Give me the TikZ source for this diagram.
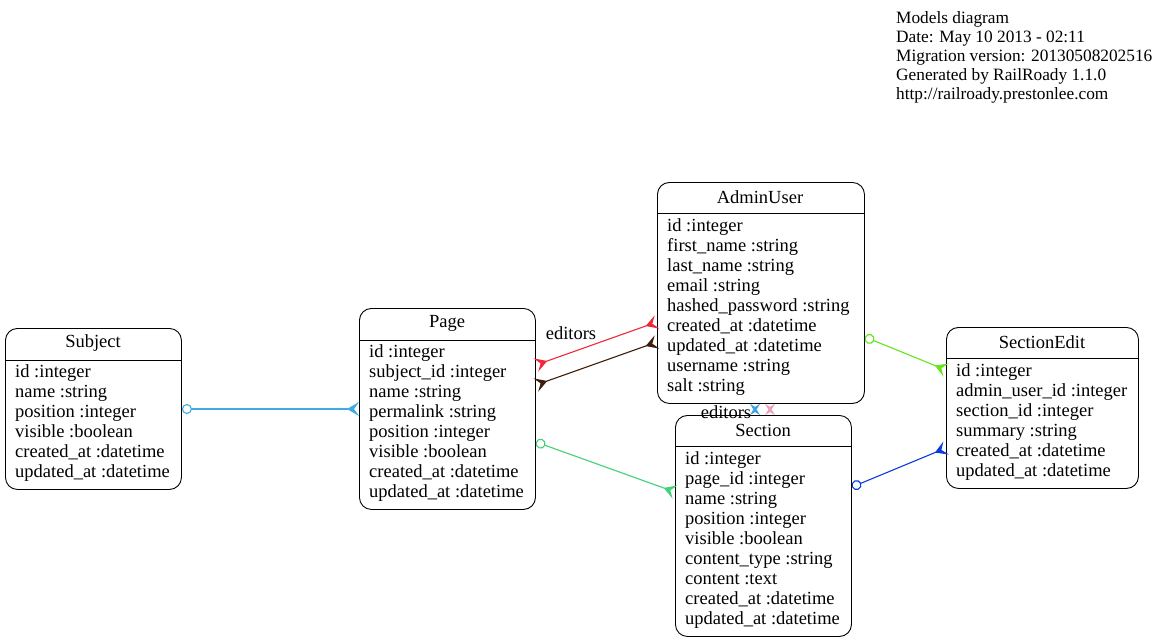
\documentclass[tikz,border=0pt]{standalone}
\usepackage{fontspec}
\setmainfont{Liberation Serif}
\usetikzlibrary{arrows.meta,calc}
\begin{document}
\begin{tikzpicture}[x=1pt,y=-1pt,
  box/.style={draw,rounded corners=12pt,anchor=north west,inner sep=0,line width=0.9pt},
  ttl/.style={anchor=center,font=\fontsize{18.5}{20}\selectfont,inner sep=0},
  body/.style={anchor=north west,align=left,font=\fontsize{18.5}{20}\selectfont,inner sep=0},
  cr/.tip={Stealth[reversed,length=12pt,width=14pt,inset=5pt]},
  cs/.tip={Stealth[reversed,length=8pt,width=10pt,inset=3pt]},
  oc/.tip={Circle[open,length=10pt,width=10pt,fill=white]},
  rel/.style={line width=1.1pt}]
\useasboundingbox[fill=white] (0,0) rectangle (1169,643);
\node[anchor=north west,align=left,inner sep=0,font=\fontsize{17.3}{19}\selectfont] (info) at (896,11)
 {Models diagram\\Date: May 10 2013 - 02:11\\Migration version: 20130508202516\\Generated by RailRoady 1.1.0\\http://railroady.prestonlee.com};
% Subject
\node[box,minimum width=176pt,minimum height=161pt] (subject) at (5,328) {};
\draw ($(subject.north west)+(0,32)$) -- ($(subject.north east)+(0,32)$);
\node[ttl] (subjectT) at (93,343) {Subject};
\node[body] (subjectB) at (15,364) {id :integer\\name :string\\position :integer\\visible :boolean\\created\_at :datetime\\updated\_at :datetime};
% Page
\node[box,minimum width=176pt,minimum height=201pt] (page) at (359,308) {};
\draw ($(page.north west)+(0,32)$) -- ($(page.north east)+(0,32)$);
\node[ttl] (pageT) at (447,323) {Page};
\node[body] (pageB) at (369,344) {id :integer\\subject\_id :integer\\name :string\\permalink :string\\position :integer\\visible :boolean\\created\_at :datetime\\updated\_at :datetime};
% AdminUser
\node[box,minimum width=207pt,minimum height=221pt] (admin) at (657,182) {};
\draw ($(admin.north west)+(0,31)$) -- ($(admin.north east)+(0,31)$);
\node[ttl] (adminT) at (760,197) {AdminUser};
\node[body] (adminB) at (667,218) {id :integer\\first\_name :string\\last\_name :string\\email :string\\hashed\_password :string\\created\_at :datetime\\updated\_at :datetime\\username :string\\salt :string};
% Section
\node[box,minimum width=176pt,minimum height=221pt] (section) at (675,415) {};
\draw ($(section.north west)+(0,31)$) -- ($(section.north east)+(0,31)$);
\node[ttl] (sectionT) at (763,430) {Section};
\node[body] (sectionB) at (685,451) {id :integer\\page\_id :integer\\name :string\\position :integer\\visible :boolean\\content\_type :string\\content :text\\created\_at :datetime\\updated\_at :datetime};
% SectionEdit
\node[box,minimum width=192pt,minimum height=161pt] (sedit) at (946,327) {};
\draw ($(sedit.north west)+(0,31)$) -- ($(sedit.north east)+(0,31)$);
\node[ttl] (seditT) at (1042,342) {SectionEdit};
\node[body] (seditB) at (956,363) {id :integer\\admin\_user\_id :integer\\section\_id :integer\\summary :string\\created\_at :datetime\\updated\_at :datetime};
% connectors
\draw[rel,oc-cr,color={rgb,255:red,64;green,170;blue,230}] ([yshift=-81pt]subject.north east) -- ([yshift=-101pt]page.north west);
\draw[rel,cr-cr,color={rgb,255:red,240;green,40;blue,60}] ([yshift=-57pt]page.north east) -- ([yshift=-140pt]admin.north west);
\draw[rel,cr-cr,color={rgb,255:red,60;green,30;blue,10}] ([yshift=-77pt]page.north east) -- ([yshift=-160pt]admin.north west);
\node[font=\fontsize{18.5}{20}\selectfont,inner sep=0] (ed1) at (571,333) {editors};
\draw[rel,oc-cr,color={rgb,255:red,64;green,210;blue,120}] ([yshift=-134pt]page.north east) -- ([yshift=-77pt]section.north west);
\draw[rel,oc-cr,color={rgb,255:red,100;green,230;blue,30}] ([yshift=-155pt]admin.north east) -- ([yshift=-43pt]sedit.north west);
\draw[rel,oc-cr,color={rgb,255:red,10;green,60;blue,220}] ([yshift=-72pt]section.north east) -- ([yshift=-121pt]sedit.north west);
\draw[rel,cs-cs,color={rgb,255:red,60;green,160;blue,230}] ([xshift=98pt]admin.south west) -- ([xshift=80pt]section.north west);
\draw[rel,cs-cs,color={rgb,255:red,235;green,160;blue,190}] ([xshift=113pt]admin.south west) -- ([xshift=95pt]section.north west);
\node[font=\fontsize{18.5}{20}\selectfont,inner sep=0] (ed2) at (726,412) {editors};
\end{tikzpicture}
\end{document}
